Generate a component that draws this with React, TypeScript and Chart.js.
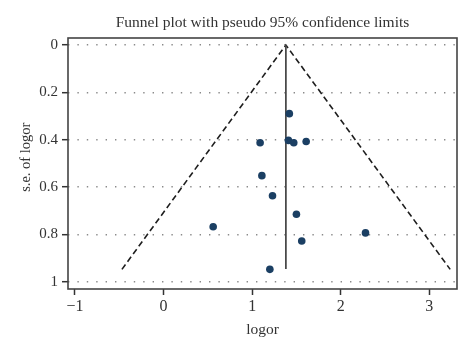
import React, { useEffect, useRef } from "react";
import { Chart, registerables } from "chart.js";

Chart.register(...registerables);

const titleText = "Funnel plot with pseudo 95% confidence limits";
const xTitle = "logor";
const yTitle = "s.e. of logor";

const logor = [1.42, 1.09, 1.41, 1.47, 1.61, 1.11, 1.23, 1.5, 0.56, 2.28, 1.56, 1.2];
const seLogor = [0.29, 0.413, 0.403, 0.413, 0.408, 0.552, 0.637, 0.715, 0.768, 0.794, 0.828, 0.948];

const pooledX = [1.381, 1.381];
const pooledY = [0, 0.946];

const limitX = [-0.47, 1.381, 3.236];
const limitY = [0.948, 0, 0.948];

const xTicks = [-1, 0, 1, 2, 3];
const xTickLabels = ["\u22121", "0", "1", "2", "3"];
const yTicks = [0, 0.2, 0.4, 0.6, 0.8, 1];
const yTickLabels = ["0", "0.2", "0.4", "0.6", "0.8", "1"];

const FONT = "'Liberation Serif', 'DejaVu Serif', serif";
const TEXT = "#333333";

const framePlugin = {
  id: "frame",
  afterDatasetsDraw(chart: any) {
    const { ctx, chartArea } = chart;
    ctx.save();
    ctx.strokeStyle = "#444444";
    ctx.lineWidth = 1.6;
    ctx.strokeRect(chartArea.left, chartArea.top, chartArea.right - chartArea.left, chartArea.bottom - chartArea.top);
    ctx.restore();
  },
  afterDraw(chart: any) {
    const { ctx, chartArea } = chart;
    ctx.save();
    ctx.translate(26, chartArea.top + (chartArea.bottom - chartArea.top) * 0.475);
    ctx.rotate(-Math.PI / 2);
    ctx.fillStyle = TEXT;
    ctx.font = "14.5px " + FONT;
    ctx.textAlign = "center";
    ctx.textBaseline = "middle";
    ctx.fillText(yTitle, 0, 0);
    ctx.restore();
  },
};

export default function App() {
  const ref = useRef<HTMLCanvasElement>(null);

  useEffect(() => {
    document.body.style.margin = "0";
    const canvas = ref.current;
    if (!canvas) return;
    const chart = new Chart(canvas, {
      type: "scatter",
      data: {
        datasets: [
          {
            label: "studies",
            data: logor.map((x, i) => ({ x, y: seLogor[i] })),
            backgroundColor: "#1b3f63",
            borderWidth: 0,
            pointRadius: 3.8,
            order: 0,
          },
          {
            label: "pooled",
            data: pooledX.map((x, i) => ({ x, y: pooledY[i] })),
            showLine: true,
            borderColor: "#444444",
            borderWidth: 1.7,
            pointRadius: 0,
            order: 1,
          },
          {
            label: "limits",
            data: limitX.map((x, i) => ({ x, y: limitY[i] })),
            showLine: true,
            borderColor: "#1e1e1e",
            borderWidth: 1.6,
            borderDash: [6, 3.5],
            pointRadius: 0,
            order: 2,
          },
        ],
      },
      options: {
        responsive: false,
        animation: false,
        layout: { padding: { left: 0, right: 17, top: 0, bottom: 0 } },
        plugins: {
          legend: { display: false },
          tooltip: { enabled: false },
          title: {
            display: true,
            text: titleText,
            fullSize: false,
            color: TEXT,
            font: { family: FONT, size: 15.5, weight: "normal" },
            padding: { top: 13.7, bottom: 5.7 },
          },
        },
        scales: {
          x: {
            type: "linear",
            min: -1.079,
            max: 3.313,
            afterBuildTicks: (s: any) => {
              s.ticks = xTicks.map((v) => ({ value: v }));
            },
            afterFit: (s: any) => {
              s.height = 65;
            },
            ticks: {
              color: TEXT,
              font: { family: FONT, size: 16 },
              padding: 2,
              maxRotation: 0,
              callback: (v: any) => {
                const i = xTicks.indexOf(Number(v));
                return i >= 0 ? xTickLabels[i] : "";
              },
            },
            grid: {
              display: true,
              drawOnChartArea: false,
              drawTicks: true,
              tickLength: 6,
              tickColor: "#333333",
              tickWidth: 1.5,
            },
            border: { display: false },
            title: {
              display: true,
              text: xTitle,
              color: TEXT,
              font: { family: FONT, size: 15.5 },
              padding: { top: 0, bottom: 15 },
            },
          },
          y: {
            type: "linear",
            reverse: true,
            min: -0.0296,
            max: 1.031,
            afterBuildTicks: (s: any) => {
              s.ticks = yTicks.map((v) => ({ value: v }));
            },
            afterFit: (s: any) => {
              s.width = 68;
            },
            ticks: {
              color: TEXT,
              font: { family: FONT, size: 15 },
              padding: 4,
              callback: (v: any) => {
                const i = yTicks.findIndex((t) => Math.abs(t - Number(v)) < 1e-6);
                return i >= 0 ? yTickLabels[i] : "";
              },
            },
            grid: {
              display: true,
              drawOnChartArea: true,
              drawTicks: true,
              color: "#8a8a8a",
              lineWidth: 1.4,
              tickLength: 6,
              tickColor: "#333333",
              tickWidth: 1.5,
              tickBorderDash: [],
            },
            border: { display: false, dash: [1.4, 8] },
            title: { display: false },
          },
        },
      },
      plugins: [framePlugin],
    } as any);
    return () => chart.destroy();
  }, []);

  return <canvas ref={ref} width={474} height={354} />;
}
